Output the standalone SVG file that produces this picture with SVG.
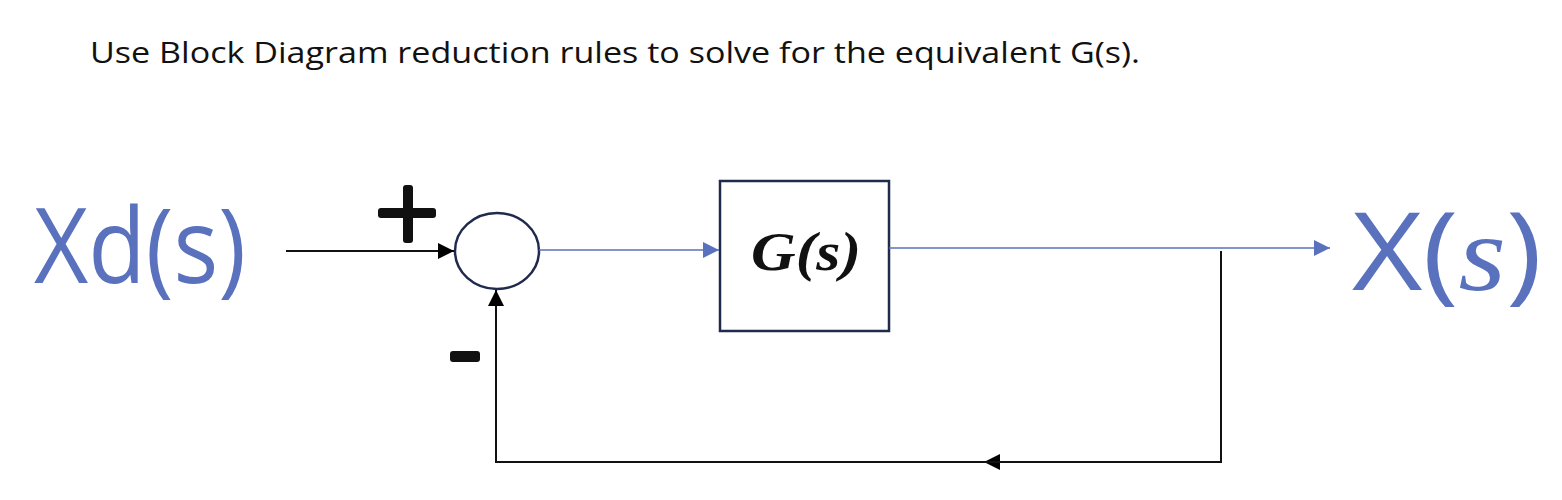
<svg xmlns="http://www.w3.org/2000/svg" width="1562" height="500" viewBox="0 0 1562 500">
<style>
.blue{fill:#5a72be;font-family:"Open Sans","Liberation Sans",sans-serif}
.bl{stroke:#5a72be;stroke-width:1.5;fill:none}
.bk{stroke:#111;stroke-width:2;fill:none}
</style>
<defs>
<marker id="ab" markerWidth="16" markerHeight="16" refX="16" refY="8" orient="auto" markerUnits="userSpaceOnUse" viewBox="0 0 16 16"><path d="M0,0L16,8L0,16z" fill="#5a72be"/></marker>
<marker id="ak" markerWidth="16" markerHeight="16" refX="16" refY="8" orient="auto" markerUnits="userSpaceOnUse" viewBox="0 0 16 16"><path d="M0,0L16,8L0,16z" fill="#000"/></marker>
</defs>
<rect width="1562" height="500" fill="#fff"/>
<text x="90" y="63" font-family="Open Sans,Liberation Sans,sans-serif" font-size="29" fill="#111" textLength="1050" lengthAdjust="spacingAndGlyphs">Use Block Diagram reduction rules to solve for the equivalent G(s).</text>
<g id="input"><text x="34" y="283" class="blue" font-size="104" textLength="212" lengthAdjust="spacingAndGlyphs">Xd(s)</text></g>
<g id="output"><text x="1352" y="290" class="blue" font-size="108" textLength="190" lengthAdjust="spacingAndGlyphs">X(<tspan font-style="italic" font-family="Liberation Serif,serif">s</tspan>)</text></g>
<g id="sum"><ellipse cx="497" cy="251" rx="42" ry="38" fill="#fff" stroke="#1f2a4c" stroke-width="2.5"/></g>
<g id="plus"><rect x="403" y="185" width="10" height="58" rx="3" fill="#111"/><rect x="378" y="208" width="58" height="10" rx="3" fill="#111"/></g>
<g id="minus"><rect x="450" y="351" width="30" height="11" rx="3" fill="#111"/></g>
<g id="G"><rect x="720" y="181" width="169" height="150" fill="#fff" stroke="#1f2a4c" stroke-width="2.5"/>
<text x="806" y="270" text-anchor="middle" font-family="Liberation Serif,serif" font-size="54" font-weight="bold" font-style="italic" fill="#111" textLength="110" lengthAdjust="spacingAndGlyphs">G(s)</text></g>
<g id="connectors">
<line x1="286" y1="251" x2="454" y2="251" class="bk" stroke-width="3" marker-end="url(#ak)"/>
<line x1="539" y1="250" x2="719" y2="250" class="bl" marker-end="url(#ab)"/>
<line x1="889" y1="248" x2="1330" y2="248" class="bl" marker-end="url(#ab)"/>
<polyline points="1221,251 1221,462 984,462" class="bk" marker-end="url(#ak)"/>
<polyline points="1000,462 496,462 496,290" class="bk" marker-end="url(#ak)"/>
</g>
</svg>
